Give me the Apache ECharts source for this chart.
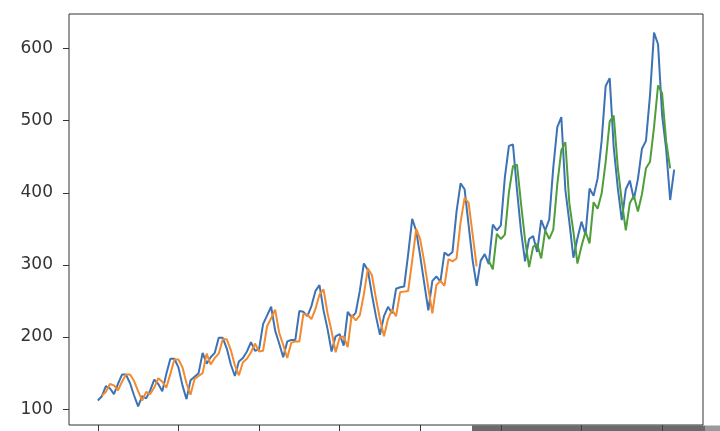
<!DOCTYPE html>
<html>
<head>
<meta charset="utf-8">
<script src="https://cdn.jsdelivr.net/npm/echarts@6/dist/echarts.min.js"></script>
<style>
html,body{margin:0;padding:0;background:#fff;}
#chart{width:720px;height:431px;}
</style>
</head>
<body>
<div id="chart"></div>
<script>
// Monthly passengers (blue), index 0..143
const passengers = [
  112,118,132,129,121,135,148,148,136,119,104,118,
  115,126,141,135,125,149,170,170,158,133,114,140,
  145,150,178,163,172,178,199,199,184,162,146,166,
  171,180,193,181,183,218,230,242,209,191,172,194,
  196,196,236,235,229,243,264,272,237,211,180,201,
  204,188,235,227,234,264,302,293,259,229,203,229,
  242,233,267,269,270,315,364,347,312,274,237,278,
  284,277,317,313,318,374,413,405,355,306,271,306,
  315,301,356,348,355,422,465,467,404,347,305,336,
  340,318,362,348,363,435,491,505,404,359,310,337,
  360,342,406,396,420,472,548,559,463,407,362,405,
  417,391,419,461,472,535,622,606,508,461,390,432
];
// Train predictions (orange), starting at index 1
const trainStart = 1;
const trainPredict = [
  119,124,135,133,126,138,148,148,139,125,112,124,
  121,130,143,138,130,149,169,169,158,136,120,142,
  146,150,177,162,171,177,197,197,182,161,147,165,
  170,179,191,180,181,215,226,238,206,189,171,192,
  194,194,232,231,225,239,259,266,233,208,179,199,
  201,186,231,223,230,259,295,286,254,225,201,225,
  238,229,262,263,264,306,350,335,304,268,233,272,
  278,271,308,305,309,359,393,386,342,298
];
// Test predictions (green), starting at index 97
const testStart = 97;
const testPredict = [
  306,294,343,336,342,401,437,439,385,335,297,325,
  329,309,348,336,349,412,459,470,385,346,302,326,
  346,330,387,378,399,443,499,507,436,388,348,386,
  396,374,398,434,443,491,549,538,472,434
];
const xTicks = [0,20,40,60,80,100,120,140];
const yTicks = [100,200,300,400,500,600];

const toPairs = (arr, start) => arr.map((v, i) => [i + start, v]);

const chart = echarts.init(document.getElementById('chart'), null, {renderer: 'canvas'});
const lineStyle = (c) => ({color: c, width: 2});
chart.setOption({
  animation: false,
  backgroundColor: '#ffffff',
  grid: {left: 69, right: 17, top: 14, bottom: 6, show: true, borderColor: '#333', borderWidth: 1, backgroundColor: '#fff'},
  xAxis: {
    type: 'value', min: -7.15, max: 150.15,
    axisLine: {show: false, onZero: false},
    splitLine: {show: false},
    axisTick: {show: true, length: 6, lineStyle: {color: '#333'}, customValues: xTicks},
    axisLabel: {show: false, customValues: xTicks}
  },
  yAxis: {
    type: 'value', min: 78.1, max: 647.9,
    axisLine: {show: false, onZero: false},
    splitLine: {show: false},
    axisTick: {show: true, length: 6, lineStyle: {color: '#333'}, customValues: yTicks},
    axisLabel: {show: true, customValues: yTicks, margin: 16, color: '#333', fontSize: 17, fontFamily: 'DejaVu Sans'}
  },
  series: [
    {type: 'line', data: toPairs(passengers, 0), showSymbol: false, lineStyle: lineStyle('#3d72b4'), itemStyle: {color: '#3d72b4'}, z: 2},
    {type: 'line', data: toPairs(trainPredict, trainStart), showSymbol: false, lineStyle: lineStyle('#f28a30'), itemStyle: {color: '#f28a30'}, z: 3},
    {type: 'line', data: toPairs(testPredict, testStart), showSymbol: false, lineStyle: lineStyle('#4e9e3a'), itemStyle: {color: '#4e9e3a'}, z: 4}
  ],
  graphic: [
    {type: 'rect', shape: {x: 472, y: 425.5, width: 233, height: 6}, style: {fill: 'rgba(70,70,70,0.8)'}, z: 100},
    {type: 'rect', shape: {x: 705, y: 425.5, width: 15, height: 6}, style: {fill: '#9a9a9a'}, z: 100}
  ]
});
</script>
</body>
</html>
